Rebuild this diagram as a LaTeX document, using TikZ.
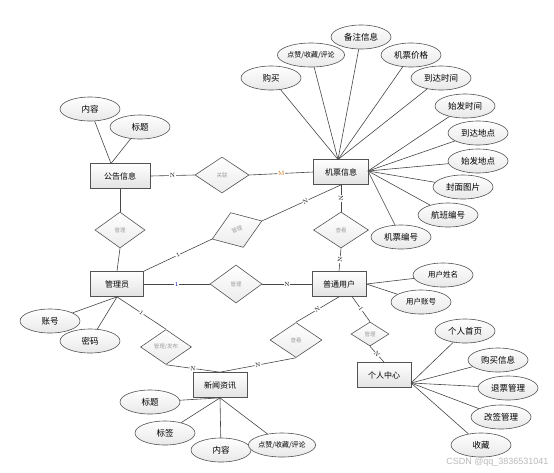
\documentclass[tikz,border=0pt]{standalone}
\usepackage{fontspec}
\newfontfamily\cjk{Noto Sans CJK SC}
\newfontfamily\wmfont{Liberation Sans}
\usetikzlibrary{shapes.geometric}
\tikzset{
  ent/.style={draw=gray!65!black, line width=0.7pt, top color=white, bottom color=gray!22, minimum width=55pt, minimum height=25pt, inner sep=0pt, font=\cjk\fontsize{8}{9}\selectfont},
  attr/.style={ellipse, draw=gray!65!black, line width=0.6pt, top color=white, bottom color=gray!18, minimum width=60pt, minimum height=24pt, inner sep=0pt, font=\cjk\fontsize{8.5}{9}\selectfont},
  rel/.style={diamond, draw=gray!65!black, line width=0.6pt, top color=white, bottom color=gray!15, minimum width=52pt, minimum height=36pt, inner sep=0pt, text=gray!75, font=\cjk\fontsize{5.5}{6}\selectfont},
  conn/.style={draw=gray!55!black, line width=0.6pt},
  lab/.style={fill=white, inner sep=0.6pt, font=\fontsize{6}{6}\selectfont, sloped},
}
\begin{document}
\begin{tikzpicture}[x=1pt,y=-1pt]
\useasboundingbox (0,0) rectangle (554,472);
% entities
\node[ent, minimum width=60pt] (gg) at (120,176) {公告信息};
\node[ent] (jp) at (341,172) {机票信息};
\node[ent, minimum width=53pt] (gly) at (117,284) {管理员};
\node[ent, minimum width=54pt] (pt) at (339,284) {普通用户};
\node[ent, minimum width=54pt] (gr) at (384,375) {个人中心};
\node[ent, minimum width=54pt] (xw) at (220,385) {新闻资讯};
% relations
\node[rel, minimum width=54pt] (gl) at (222,175) {关联};
\node[rel, minimum width=50pt] (gl2) at (120,230) {管理};
\node[rel, minimum width=53pt, minimum height=37pt, rotate=20] (gl1) at (237,230) {管理};
\node[rel, minimum width=55pt] (ck) at (341,230) {查看};
\node[rel, minimum height=38pt] (gl3) at (236,284) {管理};
\node[rel, minimum width=51pt, minimum height=35pt] (glfb) at (166,347) {管理/发布};
\node[rel, minimum width=52pt, minimum height=35pt] (ck2) at (296,340) {查看};
\node[rel, minimum width=38pt, minimum height=24pt] (gl4) at (370,334) {管理};
% convergence points
\coordinate (ggA) at (111,163.5);
\coordinate (jpT) at (338,159.5);
\coordinate (jpR) at (368,171);
\coordinate (ptB) at (352,296.5);
\coordinate (grR) at (411,383);
% attributes
\node[attr] (a1) at (90,109) {内容};
\node[attr] (a2) at (140,127) {标题};
\node[attr] (b1) at (271,78) {购买};
\node[attr, font=\cjk\fontsize{7}{8}\selectfont] (b2) at (311,55) {点赞/收藏/评论};
\node[attr] (b3) at (361,37) {备注信息};
\node[attr] (b4) at (411,55) {机票价格};
\node[attr] (b5) at (441,78) {到达时间};
\node[attr] (b6) at (465,106) {始发时间};
\node[attr] (b7) at (478,133) {到达地点};
\node[attr] (b8) at (478,161) {始发地点};
\node[attr] (b9) at (463,187) {封面图片};
\node[attr] (b10) at (448,215) {航班编号};
\node[attr] (b11) at (401,237) {机票编号};
\node[attr, font=\cjk\fontsize{7.5}{8}\selectfont] (c1) at (443,275) {用户姓名};
\node[attr, font=\cjk\fontsize{7.5}{8}\selectfont] (c2) at (421,302) {用户账号};
\node[attr] (d1) at (465,331) {个人首页};
\node[attr] (d2) at (498,360) {购买信息};
\node[attr] (d3) at (508,388) {退票管理};
\node[attr] (d4) at (501,417) {改签管理};
\node[attr] (d5) at (481,445) {收藏};
\node[attr] (e1) at (50,321) {账号};
\node[attr] (e2) at (90,341) {密码};
\node[attr] (f1) at (150,402) {标题};
\node[attr] (f2) at (165,433) {标签};
\node[attr] (f3) at (221,450) {内容};
\node[attr, font=\cjk\fontsize{7}{8}\selectfont] (f4) at (282,445) {点赞/收藏/评论};
% attribute lines
\foreach \a in {a1,a2} \draw[conn] (\a) -- (ggA);
\foreach \a in {b1,b2,b3,b4,b5} \draw[conn] (\a) -- (jpT);
\foreach \a in {b6,b7,b8,b9,b10,b11} \draw[conn] (\a) -- (jpR);
\foreach \a in {c1,c2} \draw[conn] (\a) -- (pt.east);
\foreach \a in {d1,d2,d3,d4,d5} \draw[conn] (\a) -- (grR);
\foreach \a in {e1,e2} \draw[conn] (\a) -- (gly.south);
\foreach \a in {f1,f2,f3,f4} \draw[conn] (\a) -- (xw.south);
% relationship lines
\draw[conn] (gg.east) -- node[lab] (l1) {N} (gl.west);
\draw[conn] (gl.east) -- node[lab, text=orange!80!black] (l2) {M} (jp.west);
\draw[conn] (gg.south) -- (gl2.north);
\draw[conn] (gl2.south) -- (gly.north);
\draw[conn] (gly.north east) -- node[lab] (l3) {1} (gl1.west);
\draw[conn] (gl1.east) -- node[lab, pos=0.55] (l4) {N} (jp.south);
\draw[conn] (jp.south) -- node[lab] (l5) {N} (ck.north);
\draw[conn] (ck.south) -- node[lab] (l6) {N} (pt.north);
\draw[conn] (gly.east) -- node[lab, text=blue!70!black] (l7) {1} (gl3.west);
\draw[conn] (gl3.east) -- node[lab] (l8) {N} (pt.west);
\draw[conn] (gly.south) -- node[lab] (l9) {1} (glfb.north);
\draw[conn] (glfb.south) -- node[lab] (l10) {N} (xw.north);
\draw[conn] (pt.south) -- node[lab] (l11) {N} (ck2.north);
\draw[conn] (ck2.south) -- node[lab] (l12) {N} (xw.north);
\draw[conn] (ptB) -- node[lab] (l13) {1} (gl4.north);
\draw[conn] (gl4.south) -- node[lab] (l14) {N} (gr.north);
% watermark
\node[text=gray!55, font=\wmfont\fontsize{9}{10}\selectfont, anchor=east] (wm) at (552,462) {CSDN @qq\_3836531041};
\end{tikzpicture}
\end{document}
